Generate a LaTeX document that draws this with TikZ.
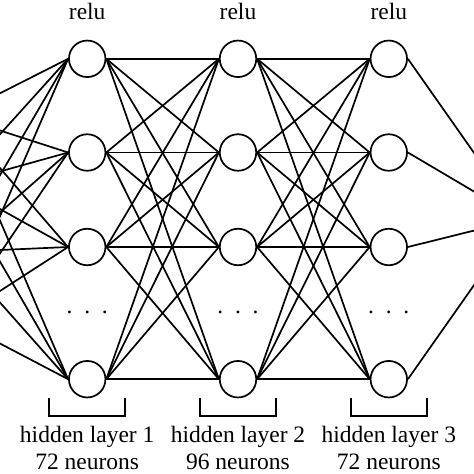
\documentclass[tikz,border=0pt]{standalone}
\usepackage{fontspec}
\setmainfont{Liberation Serif}
\begin{document}
\begin{tikzpicture}[x=1pt,y=-1pt,
  neuron/.style={circle,draw,line width=1.7pt,minimum size=36.5pt,inner sep=0pt},
  conn/.style={line width=1.7pt},
  bracketline/.style={line width=1.7pt},
  lbl/.style={font=\fontsize{23.5}{27}\selectfont,anchor=base,inner sep=0pt}]
\useasboundingbox (0,0) rectangle (474,474);
\clip (0,0) rectangle (474,474);
% input layer (outside the frame)
\foreach \i/\y in {1/116,2/184,3/252,4/320}
  \node[neuron] (in\i) at (-64,\y) {};
% hidden layers
\foreach \l/\x in {1/87.2,2/238,3/388.8}{
  \foreach \j/\y in {1/58.8,2/152.5,3/247,4/379.2}
    \node[neuron] (h\l\j) at (\x,\y) {};
  \node[lbl] (relu\l) at (\x,19) {relu};
  \node[lbl] (dots\l) at (\x,313) {.\ \ .\ \ .};
  \draw[bracketline] (\x-38,398) -- (\x-38,416) -- (\x+38,416) -- (\x+38,398);
}
\node[lbl] (name1) at (87.2,442) {hidden layer 1};
\node[lbl] (name2) at (238,442) {hidden layer 2};
\node[lbl] (name3) at (388.8,442) {hidden layer 3};
\node[lbl] (size1) at (87.2,469) {72 neurons};
\node[lbl] (size2) at (238,469) {96 neurons};
\node[lbl] (size3) at (388.8,469) {72 neurons};
% output (outside the frame)
\node[neuron] (out) at (539.6,219) {};
% connections
\foreach \i in {1,...,4}
  \foreach \j in {1,...,4}
    \draw[conn] (in\i.east) -- (h1\j.west);
\foreach \i in {1,...,4}
  \foreach \j in {1,...,4}{
    \draw[conn] (h1\i.east) -- (h2\j.west);
    \draw[conn] (h2\i.east) -- (h3\j.west);
  }
\foreach \i in {1,...,4}
  \draw[conn] (h3\i.east) -- (out.west);
\end{tikzpicture}
\end{document}
